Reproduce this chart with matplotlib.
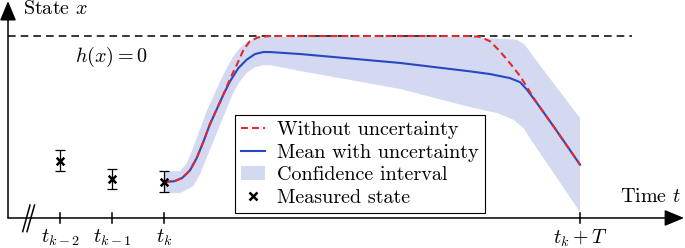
import numpy as np
import matplotlib
matplotlib.use("Agg")
import matplotlib.pyplot as plt
from matplotlib.patches import Patch
from matplotlib.lines import Line2D

plt.rcParams['font.family'] = 'cmr10'
plt.rcParams['mathtext.fontset'] = 'cm'
plt.rcParams['axes.unicode_minus'] = False

# time in sample steps (t_k = 0), state scaled so that h(x)=0 is at 1
t_meas = [-2, -1, 0]
x_meas = [0.315, 0.214, 0.199]
x_err = [0.057, 0.057, 0.057]

t_mean = [0.00, 0.20, 0.35, 0.50, 0.63, 0.76, 0.88, 1.01, 1.14, 1.27, 1.43, 1.59, 1.75, 1.91,
          2.04, 2.62, 4.54, 5.88, 6.27, 6.65, 6.85, 6.98, 7.17, 7.49, 8.00]
x_mean = [0.198, 0.202, 0.220, 0.262, 0.330, 0.421, 0.513, 0.595, 0.677, 0.751, 0.824, 0.870, 0.901, 0.912,
          0.912, 0.901, 0.852, 0.806, 0.791, 0.769, 0.746, 0.705, 0.632, 0.504, 0.293]

t_nom = [0.00, 0.20, 0.35, 0.50, 0.63, 0.76, 0.88, 1.01, 1.14, 1.27, 1.40, 1.53, 1.65, 1.81,
         2.04, 5.88, 6.08, 6.27, 6.46, 6.65, 6.85, 7.01, 7.17, 7.49, 8.00]
x_nom = [0.198, 0.202, 0.220, 0.262, 0.330, 0.421, 0.513, 0.595, 0.677, 0.765, 0.842, 0.925, 0.971, 0.993,
         1.000, 1.000, 0.995, 0.971, 0.916, 0.852, 0.779, 0.705, 0.632, 0.504, 0.293]

t_up = [0.00, 0.31, 0.44, 0.56, 0.69, 0.82, 0.95, 1.08, 1.21, 1.33, 1.46, 1.59, 1.75,
        2.04, 5.88, 6.78, 6.94, 7.10, 8.00]
x_up = [0.257, 0.257, 0.302, 0.385, 0.485, 0.586, 0.669, 0.751, 0.824, 0.888, 0.934, 0.967, 0.989,
        0.995, 0.995, 0.980, 0.952, 0.888, 0.549]

t_lo = [0.00, 0.31, 0.56, 0.69, 0.82, 0.95, 1.08, 1.21, 1.33, 1.46, 1.59, 1.75, 1.91,
        2.04, 2.62, 4.54, 5.88, 6.40, 6.72, 6.91, 7.10, 8.00]
x_lo = [0.137, 0.137, 0.174, 0.238, 0.330, 0.421, 0.513, 0.604, 0.687, 0.751, 0.797, 0.828, 0.840,
        0.840, 0.808, 0.709, 0.610, 0.577, 0.540, 0.495, 0.412, 0.033]

tick_pos = [-2, -1, 0, 8]
tick_labels = [r'$t_{k-2}$', r'$t_{k-1}$', r'$t_k$', r'$t_k+T$']

red = '#e8262b'
blue = '#2848bf'
band = '#d2d9f0'

fig = plt.figure(figsize=(6.85, 2.48), dpi=100)
ax = fig.add_axes([0, 0, 1, 1])
ax.set_xlim(-3.154, 10.019)
ax.set_ylim(-0.165, 1.198)
ax.axis('off')

# confidence band as one polygon
ax.fill(np.concatenate([t_up, t_lo[::-1]]), np.concatenate([x_up, x_lo[::-1]]),
        color=band, lw=0, zorder=1)

# constraint h(x)=0
hl, = ax.plot([-3, 9.0], [1.0, 1.0], color='k', lw=1.1, zorder=2)
hl.set_dashes((5, 3.3))

ax.plot(t_mean, x_mean, color=blue, lw=1.5, zorder=3)
rl, = ax.plot(t_nom, x_nom, color=red, lw=1.5, zorder=4)
rl.set_dashes((3.3, 2))

ax.errorbar(t_meas, x_meas, yerr=x_err, fmt='none', ecolor='k', elinewidth=0.9,
            capsize=3.6, capthick=0.9, zorder=5)
ax.scatter(t_meas, x_meas, marker='x', s=30, color='k', linewidths=1.8, zorder=6)

# axes with arrows
arrow = dict(arrowstyle='-|>,head_length=0.6,head_width=0.25', mutation_scale=20,
             lw=1.1, color='k', shrinkA=0, shrinkB=0)
ax.annotate('', xy=(-3, 1.192), xytext=(-3, 0), arrowprops=arrow, zorder=7)
ax.annotate('', xy=(10.0, 0), xytext=(-3, 0), arrowprops=arrow, zorder=7)

# axis break
ax.plot([-2.717, -2.577], [-0.075, 0.071], color='k', lw=1.1, zorder=7)
ax.plot([-2.635, -2.490], [-0.075, 0.071], color='k', lw=1.1, zorder=7)

for tp, lab in zip(tick_pos, tick_labels):
    ax.plot([tp, tp], [-0.027, 0.027], color='k', lw=1.1, zorder=7)
    ax.text(tp, -0.11, lab, ha='center', va='center', fontsize=14.5)

ax.text(-2.71, 1.148, r'State $x$', ha='left', va='center', fontsize=14.5)
ax.text(-1.71, 0.885, r'$h(x) = 0$', ha='left', va='center', fontsize=14.5)
ax.text(9.94, 0.115, r'Time $t$', ha='right', va='center', fontsize=14.5)

handles = [Line2D([], [], color=red, lw=1.5, dashes=(3.3, 2)),
           Line2D([], [], color=blue, lw=1.5),
           Patch(facecolor=band, edgecolor='none'),
           Line2D([], [], color='k', lw=0, marker='x', markersize=6, markeredgewidth=1.8)]
labels = ['Without uncertainty', 'Mean with uncertainty', 'Confidence interval', 'Measured state']
leg = ax.legend(handles, labels, loc='upper left', bbox_to_anchor=(1.365, 0.566),
                bbox_transform=ax.transData, fontsize=14.5, frameon=True, fancybox=False,
                edgecolor='k', framealpha=1, borderpad=0.3, labelspacing=0.22,
                handlelength=1.2, handletextpad=0.6, borderaxespad=0)
leg.get_frame().set_linewidth(0.8)
leg.set_zorder(8)

fig.savefig('out.png', dpi=100)
